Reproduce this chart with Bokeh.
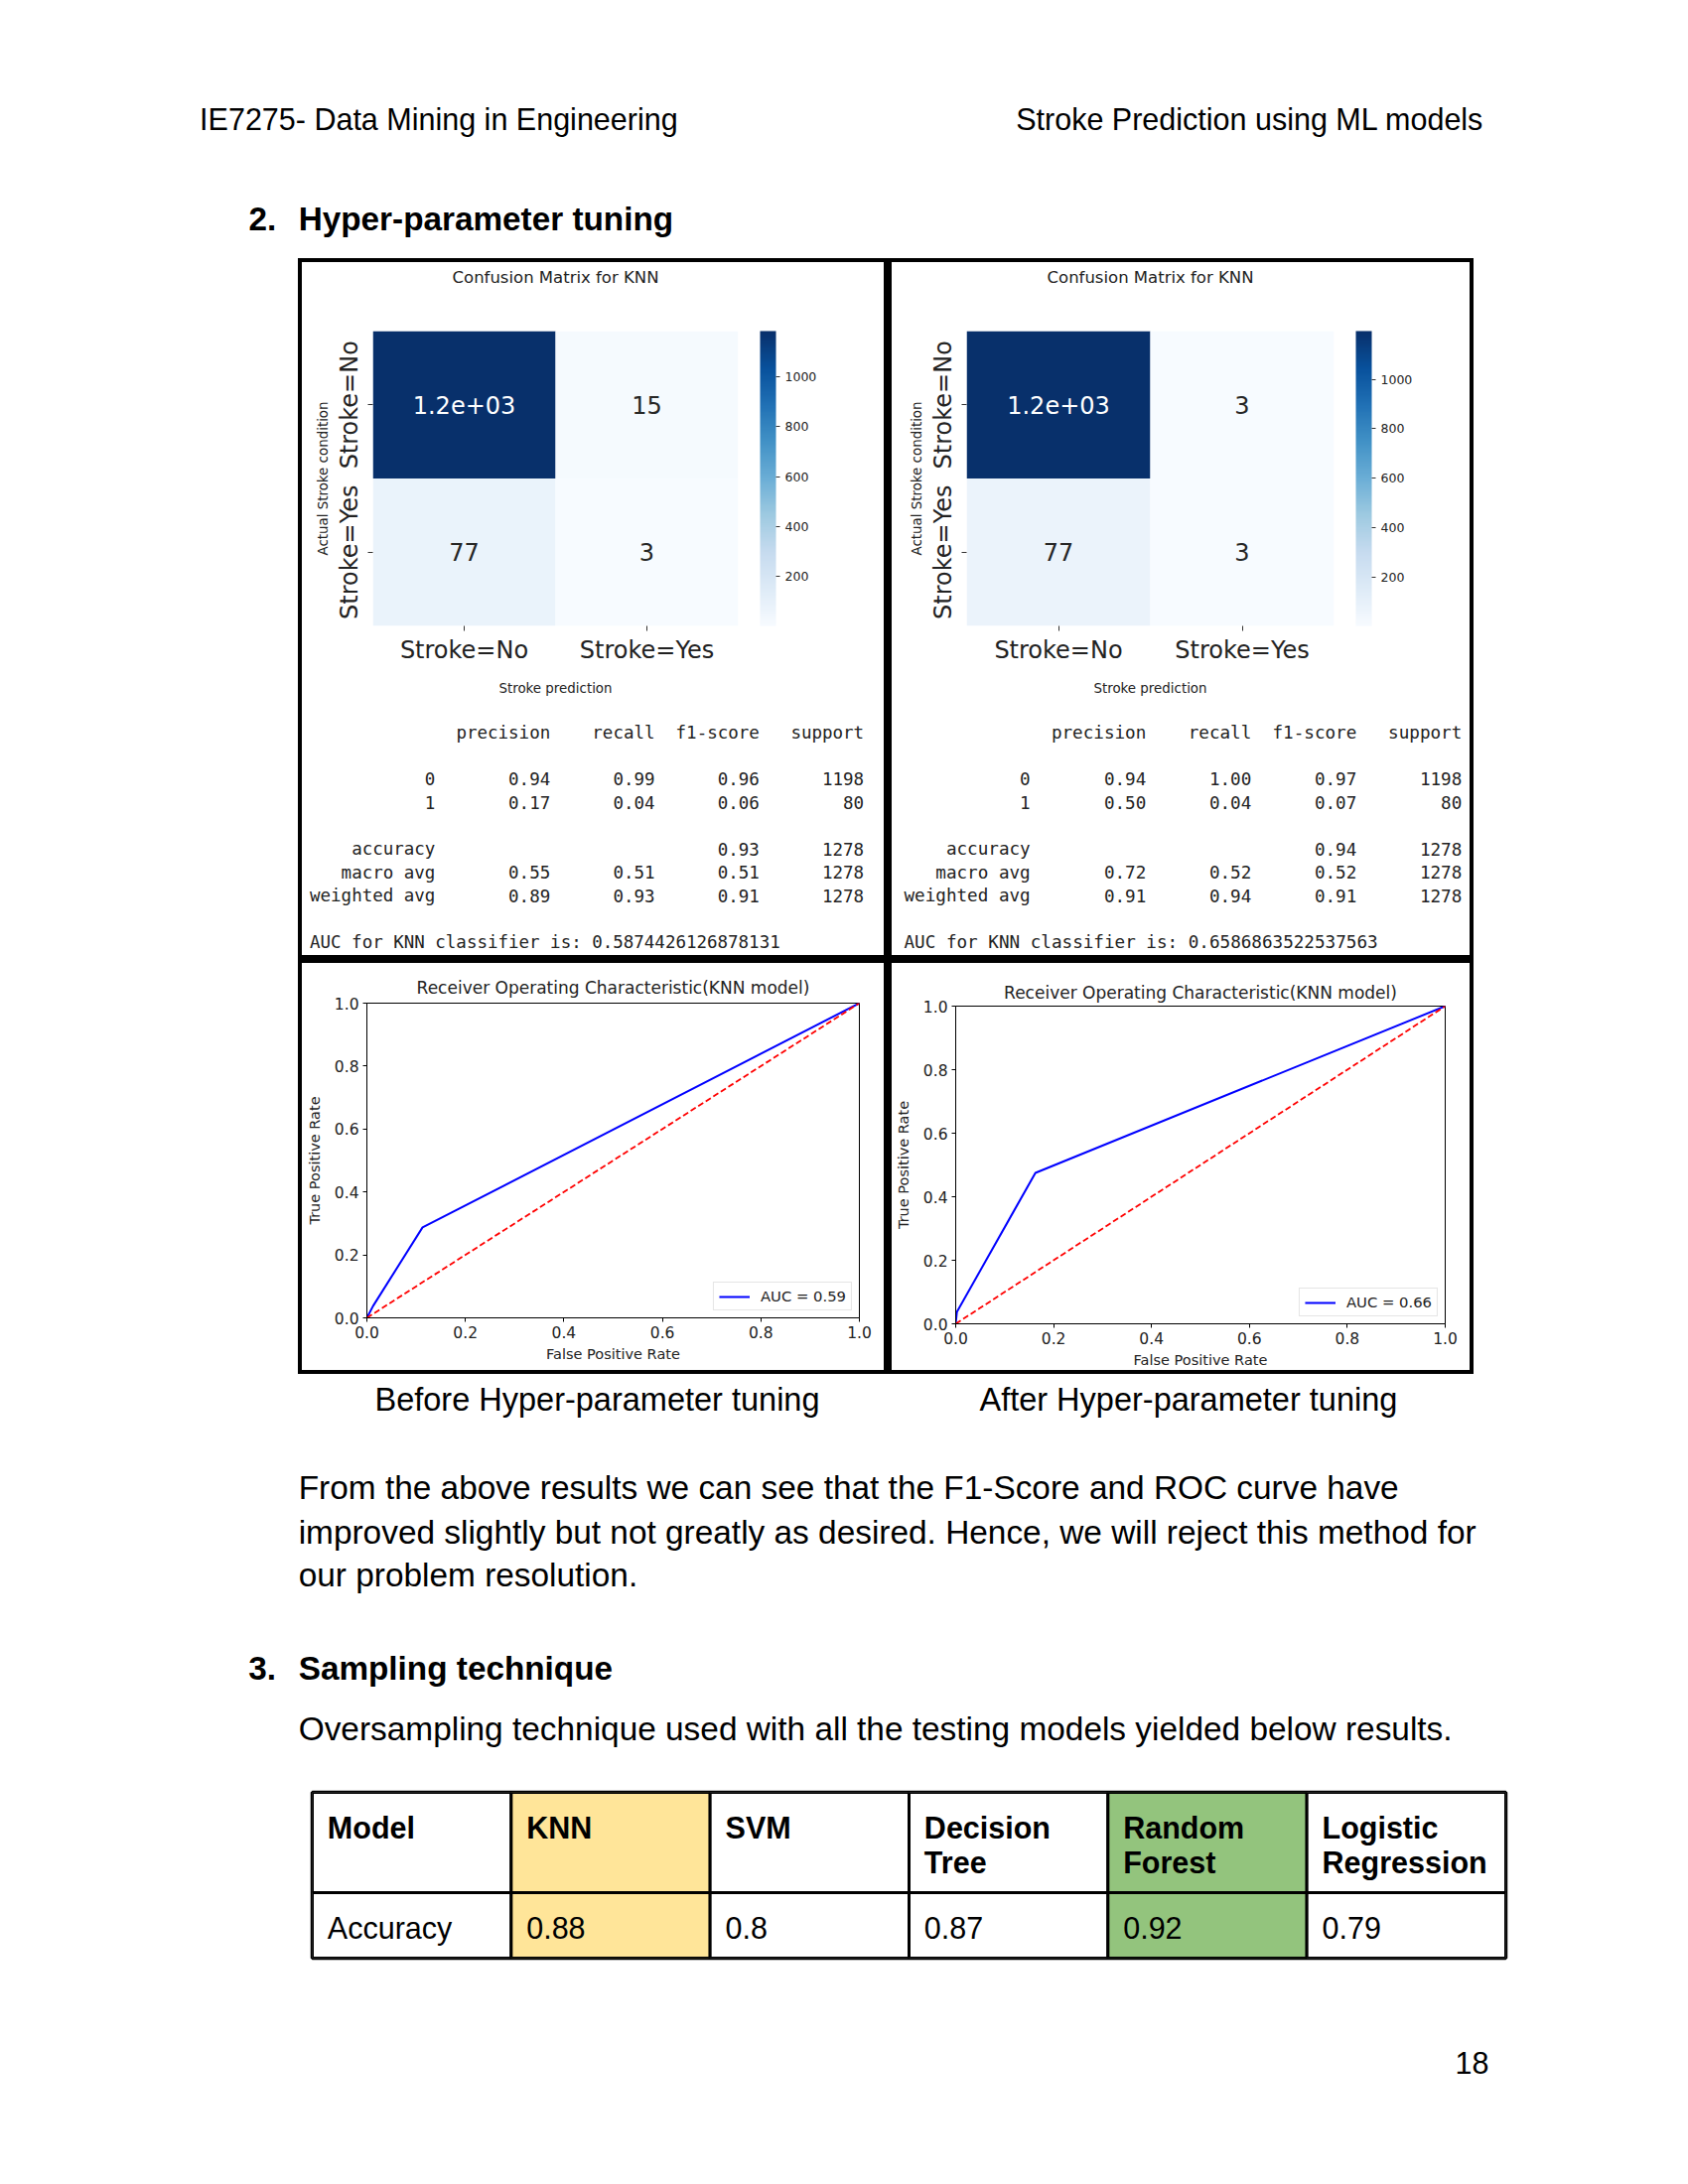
import numpy as np
from bokeh.plotting import figure
from bokeh.models import (Range1d, FactorRange, ColumnDataSource, LinearColorMapper, ColorBar,
                          FixedTicker, PrintfTickFormatter, Spacer, Legend, LegendItem, Title)
from bokeh.layouts import row, column
from bokeh.core.properties import value
from bokeh.embed import file_html
from bokeh.resources import INLINE

# ------------------------------------------------------------------ data
pred_labels = ["Stroke=No", "Stroke=Yes"]
actual_labels = ["Stroke=No", "Stroke=Yes"]

cm_before = [[1183, 15], [77, 3]]
cm_before_text = [["1.2e+03", "15"], ["77", "3"]]
cm_after = [[1195, 3], [77, 3]]
cm_after_text = [["1.2e+03", "3"], ["77", "3"]]
colorbar_ticks = [200, 400, 600, 800, 1000]

report_columns = ["precision", "recall", "f1-score", "support"]
report_rows = ["0", "1", "accuracy", "macro avg", "weighted avg"]
report_before = [["0.94", "0.99", "0.96", "1198"],
                 ["0.17", "0.04", "0.06", "80"],
                 ["", "", "0.93", "1278"],
                 ["0.55", "0.51", "0.51", "1278"],
                 ["0.89", "0.93", "0.91", "1278"]]
report_after = [["0.94", "1.00", "0.97", "1198"],
                ["0.50", "0.04", "0.07", "80"],
                ["", "", "0.94", "1278"],
                ["0.72", "0.52", "0.52", "1278"],
                ["0.91", "0.94", "0.91", "1278"]]
auc_before = "0.5874426126878131"
auc_after = "0.6586863522537563"

roc_fpr_before = [0.0, 0.0125, 0.113, 1.0]
roc_tpr_before = [0.0, 0.0375, 0.2875, 1.0]
roc_fpr_after = [0.0, 0.0025, 0.1628, 1.0]
roc_tpr_after = [0.0, 0.0375, 0.475, 1.0]
chance_line = [0.0, 1.0]
auc_label_before = "AUC = 0.59"
auc_label_after = "AUC = 0.66"
roc_ticks = [0.0, 0.2, 0.4, 0.6, 0.8, 1.0]

table_models = ["KNN", "SVM", "Decision Tree", "Random Forest", "Logistic Regression"]
table_accuracy = [0.88, 0.8, 0.87, 0.92, 0.79]

# ------------------------------------------------------------------ style
SANS = value("DejaVu Sans")
PAGE = value("Liberation Sans")
MONO = value("DejaVu Sans Mono")
INK = "#222222"
B = 4  # panel border thickness
highlight = {"KNN": "#ffe599", "Random Forest": "#93c47d"}

BLUES9 = ["#f7fbff", "#deebf7", "#c6dbef", "#9ecae1", "#6baed6",
          "#4292c6", "#2171b5", "#08519c", "#08306b"]


def smooth_palette(colors, n=256):
    rgb = np.array([[int(c[i:i + 2], 16) for i in (1, 3, 5)] for c in colors], float)
    t = np.linspace(0, 1, len(colors))
    tt = np.linspace(0, 1, n)
    out = np.stack([np.interp(tt, t, rgb[:, k]) for k in range(3)], axis=1)
    return ["#%02x%02x%02x" % tuple(int(round(v)) for v in r) for r in out]


BLUES = smooth_palette(BLUES9)


def base_fig(**kw):
    p = figure(toolbar_location=None, output_backend="svg", **kw)
    p.background_fill_color = "white"
    p.border_fill_color = "white"
    return p


def page_fig(width, height, x0, y0):
    p = base_fig(width=width, height=height,
                 x_range=Range1d(x0, x0 + width), y_range=Range1d(y0 + height, y0),
                 min_border=0, x_axis_location=None, y_axis_location=None)
    p.outline_line_color = None
    p.grid.visible = False
    return p


def put(p, x, y, s, size, align="left", bold=False, font=PAGE, color="black"):
    p.text(x=[x], y=[y], text=[s], text_font=font, text_font_size=f"{size}px",
           text_align=align, text_baseline="middle", text_color=color,
           text_font_style="bold" if bold else "normal")


def gap(size):
    # a white-on-white title used only as a fixed-size gap inside a side panel
    return Title(text=".", text_font_size="2px", standoff=size, text_color="white")


# ------------------------------------------------------------------ confusion matrix
def cm_figure(values, texts, width, left, right):
    vmin = min(min(r) for r in values)
    vmax = max(max(r) for r in values)
    xs, ys, vs, ts, tcs = [], [], [], [], []
    for i, a in enumerate(actual_labels):
        for j, pr in enumerate(pred_labels):
            xs.append(pr)
            ys.append(a)
            vs.append(values[i][j])
            ts.append(texts[i][j])
            tcs.append("white" if (values[i][j] - vmin) / (vmax - vmin) > 0.5 else "#262626")
    src = ColumnDataSource(dict(x=xs, y=ys, v=vs, t=ts, tc=tcs))
    mapper = LinearColorMapper(palette=BLUES, low=vmin, high=vmax)
    p = base_fig(width=width, height=444, title=None,
                 x_range=FactorRange(factors=pred_labels),
                 y_range=FactorRange(factors=list(reversed(actual_labels))),
                 min_border_left=left, min_border_right=right,
                 min_border_top=69, min_border_bottom=78)
    p.outline_line_color = None
    p.grid.visible = False
    p.rect(x="x", y="y", width=1, height=1, source=src,
           fill_color={"field": "v", "transform": mapper}, line_color=None)
    p.text(x="x", y="y", text="t", text_color="tc", source=src, text_align="center",
           text_baseline="middle", text_font=SANS, text_font_size="24px")
    p.add_layout(gap(42), "above")
    p.add_layout(Title(text="Confusion Matrix for KNN", align="center", text_font="DejaVu Sans",
                       text_font_size="16.5px", text_font_style="normal", text_color=INK,
                       standoff=0), "above")
    for ax in (p.xaxis[0], p.yaxis[0]):
        ax.axis_line_color = None
        ax.major_tick_out = 5
        ax.major_tick_in = 0
        ax.major_tick_line_color = "#333333"
        ax.major_label_text_font = "DejaVu Sans"
        ax.major_label_text_font_size = "24px"
        ax.major_label_text_color = INK
        ax.major_label_standoff = 5
        ax.axis_label_text_font = "DejaVu Sans"
        ax.axis_label_text_font_size = "13.4px"
        ax.axis_label_text_font_style = "normal"
        ax.axis_label_text_color = INK
    p.xaxis.axis_label = "Stroke prediction"
    p.xaxis.axis_label_standoff = 14
    p.yaxis.axis_label = "Actual Stroke condition"
    p.yaxis.major_label_orientation = "vertical"
    p.yaxis.axis_label_standoff = 2
    cb = ColorBar(color_mapper=mapper, ticker=FixedTicker(ticks=colorbar_ticks), width=16,
                  padding=0, margin=0, label_standoff=5, major_tick_out=4, major_tick_in=0,
                  major_tick_line_color="#333333", major_label_text_font="DejaVu Sans",
                  major_label_text_font_size="12.5px", major_label_text_color=INK,
                  bar_line_color=None, border_line_color=None, background_fill_color=None)
    p.add_layout(gap(19), "right")
    p.add_layout(cb, "right")
    return p


# ------------------------------------------------------------------ classification report
LABEL_W = 12
COL_W = 10
LINE_H = 23.5
REPORT_LINES = [2, 3, 5, 6, 7]


def report_figure(report, auc, width, x_off, cw):
    xs0 = -x_off / cw
    ys0 = -29 / LINE_H
    p = base_fig(width=width, height=254,
                 x_range=Range1d(xs0, xs0 + width / cw),
                 y_range=Range1d(ys0 + 254 / LINE_H, ys0),
                 min_border=0, x_axis_location=None, y_axis_location=None)
    p.outline_line_color = None
    p.grid.visible = False
    col_end = [LABEL_W + 1 + COL_W * (k + 1) for k in range(len(report_columns))]
    xs, ys, ts = [], [], []
    for k, h in enumerate(report_columns):
        xs.append(col_end[k]); ys.append(0); ts.append(h)
    for r, (lab, vals) in enumerate(zip(report_rows, report)):
        xs.append(LABEL_W); ys.append(REPORT_LINES[r]); ts.append(lab)
        for k, v in enumerate(vals):
            if v:
                xs.append(col_end[k]); ys.append(REPORT_LINES[r]); ts.append(v)
    fs = f"{cw / 0.602:.2f}px"
    p.text(x=xs, y=ys, text=ts, text_align="right", text_baseline="middle",
           text_font=MONO, text_font_size=fs, text_color=INK)
    p.text(x=[0], y=[9], text=[f"AUC for KNN classifier is: {auc}"], text_align="left",
           text_baseline="middle", text_font=MONO, text_font_size=fs, text_color=INK)
    return p


# ------------------------------------------------------------------ ROC
def roc_figure(fpr, tpr, label, width, left, right, top, bottom, title_standoff):
    p = base_fig(width=width, height=410, title="Receiver Operating Characteristic(KNN model)",
                 x_range=Range1d(0, 1), y_range=Range1d(0, 1),
                 min_border_left=left, min_border_right=right,
                 min_border_top=top, min_border_bottom=bottom)
    p.grid.visible = False
    p.outline_line_color = "black"
    p.outline_line_width = 1
    r1 = p.line(fpr, tpr, line_color="blue", line_width=2)
    p.line(chance_line, chance_line, line_color="red", line_width=1.8, line_dash="6 3")
    p.title.align = "center"
    p.title.text_font = "DejaVu Sans"
    p.title.text_font_size = "17px"
    p.title.text_font_style = "normal"
    p.title.text_color = INK
    p.title.standoff = title_standoff
    for ax in (p.xaxis[0], p.yaxis[0]):
        ax.ticker = FixedTicker(ticks=roc_ticks)
        ax.formatter = PrintfTickFormatter(format="%.1f")
        ax.axis_line_color = "black"
        ax.major_tick_out = 4
        ax.major_tick_in = 0
        ax.minor_tick_line_color = None
        ax.major_label_text_font = "DejaVu Sans"
        ax.major_label_text_font_size = "15.5px"
        ax.major_label_text_color = INK
        ax.major_label_standoff = 4
        ax.axis_label_text_font = "DejaVu Sans"
        ax.axis_label_text_font_size = "14.5px"
        ax.axis_label_text_font_style = "normal"
        ax.axis_label_text_color = INK
    p.xaxis.axis_label = "False Positive Rate"
    p.xaxis.axis_label_standoff = 5
    p.yaxis.axis_label = "True Positive Rate"
    p.yaxis.axis_label_standoff = 9
    lg = Legend(items=[LegendItem(label=label, renderers=[r1])], location="bottom_right",
                margin=7, padding=5, glyph_width=31, glyph_height=16, label_height=16,
                label_standoff=11, label_text_font="DejaVu Sans", label_text_font_size="14.8px",
                label_text_color=INK, border_line_color="#cccccc", border_line_width=1,
                background_fill_alpha=0.8)
    p.add_layout(lg)
    return p


# ------------------------------------------------------------------ panels
def vbar(h):
    return Spacer(width=B, height=h, styles={"background-color": "black"})


def hbar(w):
    return Spacer(width=w, height=B, styles={"background-color": "black"})


def boxed(child, w, h):
    return column(hbar(w + 2 * B), row(vbar(h), child, vbar(h)), hbar(w + 2 * B))


cmL = cm_figure(cm_before, cm_before_text, 586, 71, 147)
cmR = cm_figure(cm_after, cm_after_text, 582, 75, 137)
repL = report_figure(report_before, auc_before, 586, 7.5, 10.53)
repR = report_figure(report_after, auc_after, 582, 12, 10.6)
rocL = roc_figure(roc_fpr_before, roc_tpr_before, auc_label_before, 586, 65, 25, 40, 53, 11)
rocR = roc_figure(roc_fpr_after, roc_tpr_after, auc_label_after, 582, 57, 25, 43, 47, 8)

left_col = column(boxed(column(row(cmL), row(repL)), 586, 698), boxed(rocL, 586, 410))
right_col = column(boxed(column(row(cmR), row(repR)), 582, 698), boxed(rocR, 582, 410))
middle = row(Spacer(width=300, height=1124), left_col, right_col, Spacer(width=200, height=1124))

# ------------------------------------------------------------------ page text
header = page_fig(1684, 260, 0, 0)
put(header, 200.6, 119, "IE7275- Data Mining in Engineering", 30.5)
put(header, 1494, 119, "Stroke Prediction using ML models", 30.5, align="right")
put(header, 250, 220, "2.", 33.3, bold=True)
put(header, 300.2, 220, "Hyper-parameter tuning", 33.3, bold=True)

text_a = page_fig(1684, 418, 0, 1384)
put(text_a, 601, 1409.6, "Before Hyper-parameter tuning", 32.5, align="center")
put(text_a, 1196.4, 1409.6, "After Hyper-parameter tuning", 32.5, align="center")
put(text_a, 300.2, 1498, "From the above results we can see that the F1-Score and ROC curve have", 33.4)
put(text_a, 300.2, 1543, "improved slightly but not greatly as desired. Hence, we will reject this method for", 33.4)
put(text_a, 300.2, 1586.3, "our problem resolution.", 33.4)
put(text_a, 249.7, 1680.3, "3.", 33.3, bold=True)
put(text_a, 300.2, 1680.3, "Sampling technique", 33.3, bold=True)
put(text_a, 300.2, 1740.6, "Oversampling technique used with all the testing models yielded below results.", 33.4)

# ------------------------------------------------------------------ table
table_cols = ["Model"] + table_models
HEAD_H, DATA_H = 101, 66
tf = base_fig(width=1208, height=173, x_range=FactorRange(factors=table_cols),
              y_range=Range1d(0, HEAD_H + DATA_H), min_border=3,
              x_axis_location=None, y_axis_location=None)
tf.grid.visible = False
tf.outline_line_color = "black"
tf.outline_line_width = 3.5
fills = [highlight.get(c, "white") for c in table_cols]
tf.rect(x=table_cols, y=[DATA_H + HEAD_H / 2] * len(table_cols), width=1, height=HEAD_H,
        fill_color=fills, line_color="black", line_width=3)
tf.rect(x=table_cols, y=[DATA_H / 2] * len(table_cols), width=1, height=DATA_H,
        fill_color=fills, line_color="black", line_width=3)
line1 = [c.split(" ")[0] for c in table_cols]
line2 = [c.split(" ")[1] if " " in c else "" for c in table_cols]
txt_kw = dict(x_offset=-84.8, text_align="left", text_baseline="middle", text_font=PAGE,
              text_font_size="30.5px", text_color="black")
tf.text(x=table_cols, y=[HEAD_H + DATA_H - 35] * len(table_cols), text=line1,
        text_font_style="bold", **txt_kw)
tf.text(x=table_cols, y=[HEAD_H + DATA_H - 70] * len(table_cols), text=line2,
        text_font_style="bold", **txt_kw)
tf.text(x=table_cols, y=[DATA_H - 35] * len(table_cols),
        text=["Accuracy"] + [str(a) for a in table_accuracy], **txt_kw)

text_b = page_fig(1684, 217, 0, 1975)
put(text_b, 1499, 2077, "18", 30.5, align="right")

page = column(header, middle, text_a,
              row(Spacer(width=311, height=173), tf, Spacer(width=165, height=173)),
              text_b)

open("out.html", "w").write(file_html(page, INLINE))
